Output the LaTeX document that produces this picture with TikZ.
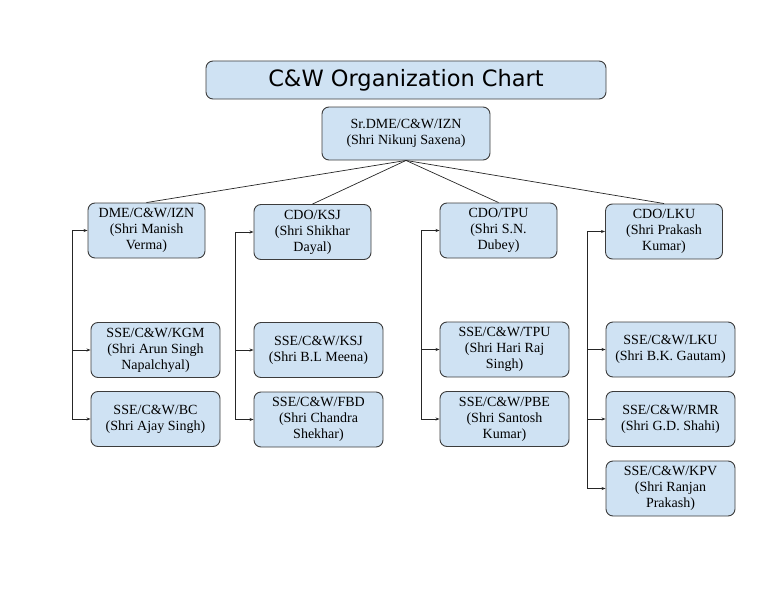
\documentclass[tikz,border=0pt]{standalone}
\usepackage{fontspec}
\setmainfont{Liberation Serif}
\newfontfamily\titlefont{DejaVu Sans}
\usetikzlibrary{arrows.meta,positioning,calc}
\definecolor{boxblue}{HTML}{CFE2F3}
\definecolor{boxline}{HTML}{3C3C3C}
\tikzset{
  post/.style={draw=boxline, line width=0.9pt, fill=boxblue, rounded corners=7pt, align=center,
    font=\fontsize{14}{16}\selectfont, inner sep=2pt},
  head/.style={post, minimum width=117pt, minimum height=55pt},
  sse/.style={post, minimum width=129pt, minimum height=55pt},
  link/.style={draw=black!85, line width=0.7pt},
  feed/.style={link, -{Stealth[length=4pt,width=3pt]}}
}

\begin{document}
\begin{tikzpicture}[x=1pt,y=-1pt]
    \useasboundingbox (0,0) rectangle (768,594);

    % Title
    \node[post, minimum width=400pt, minimum height=38pt, font=\titlefont\fontsize{22.5}{26}\selectfont]
      (title) at (406,80) {C\&W Organization Chart};

    % Top post
    \node[post, minimum width=168pt, minimum height=53pt] (top) at (406,133.5)
      {Sr.DME/C\&W/IZN\\(Shri Nikunj Saxena)};

    % Second level
    \node[head] (dme)  at (146.5,230.5) {DME/C\&W/IZN\\(Shri Manish\\Verma)};
    \node[head] (cksj) at (312.5,232)   {CDO/KSJ\\(Shri Shikhar\\Dayal)};
    \node[head] (ctpu) at (498.5,230.5) {CDO/TPU\\(Shri S.N.\\Dubey)};
    \node[head] (clku) at (664,231.5)   {CDO/LKU\\(Shri Prakash\\Kumar)};

    % SSE posts
    \node[sse] (kgm)  at (155.5,350)   {SSE/C\&W/KGM\\(Shri Arun Singh\\Napalchyal)};
    \node[sse] (bc)   at (155.5,419)   {SSE/C\&W/BC\\(Shri Ajay Singh)};
    \node[sse] (sksj) at (318.5,350)   {SSE/C\&W/KSJ\\(Shri B.L Meena)};
    \node[sse] (fbd)  at (318.5,419.5) {SSE/C\&W/FBD\\(Shri Chandra\\Shekhar)};
    \node[sse] (stpu) at (504.5,349.5) {SSE/C\&W/TPU\\(Shri Hari Raj\\Singh)};
    \node[sse] (pbe)  at (504.5,419)   {SSE/C\&W/PBE\\(Shri Santosh\\Kumar)};
    \node[sse] (slku) at (670.5,349.5) {SSE/C\&W/LKU\\(Shri B.K. Gautam)};
    \node[sse] (rmr)  at (670.5,419)   {SSE/C\&W/RMR\\(Shri G.D. Shahi)};
    \node[sse] (kpv)  at (670.5,488.5) {SSE/C\&W/KPV\\(Shri Ranjan\\Prakash)};

    % Top to second level
    \foreach \n in {dme,cksj,ctpu,clku}
      \draw[link] (top.south) -- (\n.north);

    % Side buses
    \coordinate (bus1) at (72,0);
    \coordinate (bus2) at (235,0);
    \coordinate (bus3) at (421,0);
    \coordinate (bus4) at (587,0);
    \draw[link] (bus1 |- dme.west) -- (bus1 |- bc.west);
    \draw[link] (bus2 |- cksj.west) -- (bus2 |- fbd.west);
    \draw[link] (bus3 |- ctpu.west) -- (bus3 |- pbe.west);
    \draw[link] (bus4 |- clku.west) -- (bus4 |- kpv.west);
    \foreach \n in {dme,kgm,bc}
      \draw[feed] (bus1 |- \n.west) -- (\n.west);
    \foreach \n in {cksj,sksj,fbd}
      \draw[feed] (bus2 |- \n.west) -- (\n.west);
    \foreach \n in {ctpu,stpu,pbe}
      \draw[feed] (bus3 |- \n.west) -- (\n.west);
    \foreach \n in {clku,slku,rmr,kpv}
      \draw[feed] (bus4 |- \n.west) -- (\n.west);
\end{tikzpicture}
\end{document}
